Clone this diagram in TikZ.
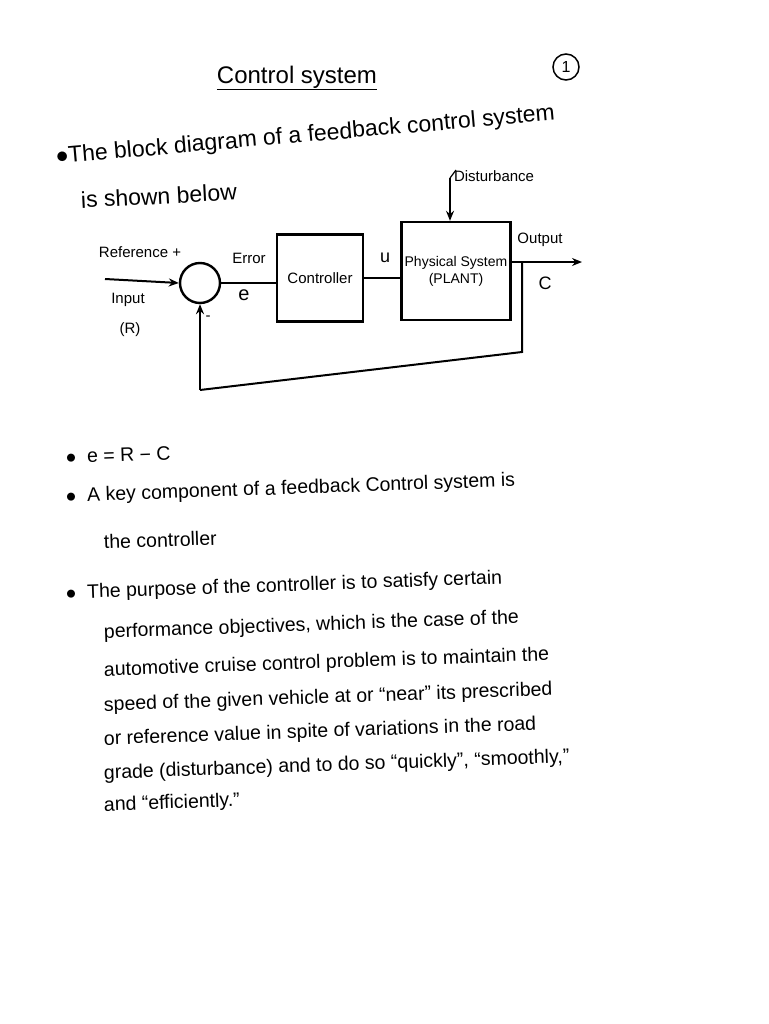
\documentclass[tikz,border=0pt]{standalone}
\usepackage{fontspec}
\setmainfont{Liberation Sans}
\usetikzlibrary{arrows.meta}
\begin{document}
\begin{tikzpicture}[x=1pt,y=-1pt,line width=2pt,
  txt/.style={anchor=west,font=\fontsize{19.5}{21}\selectfont,inner sep=0pt,rotate=2},
  lbl/.style={font=\fontsize{15}{17}\selectfont,inner sep=1pt},
  blk/.style={draw,line width=2.4pt,minimum width=86pt,minimum height=87pt,align=center,font=\fontsize{15}{18}\selectfont},
  arr/.style={-{Stealth[length=10pt,width=8pt]}}]
\useasboundingbox (0,0) rectangle (768,1024);
\node[font=\fontsize{24}{26}\selectfont] (title) at (297,78) {\underline{Control system}};
\node[draw,circle,line width=1.5pt,minimum size=26pt,font=\fontsize{16}{18}\selectfont,inner sep=0pt] (pg) at (566,67) {1};
\node[txt,font=\fontsize{23}{25}\selectfont,rotate=3] (l1) at (55,158) {$\bullet$The block diagram of a feedback control system};
\node[txt,font=\fontsize{23}{25}\selectfont,rotate=1] (l2) at (80,200) {is shown below};
% diagram
\node[draw,circle,line width=2.4pt,minimum size=40pt,inner sep=0pt] (sum) at (200,283) {};
\node[blk] (ctrl) at (320,278) {Controller};
\node[blk,minimum width=97pt,minimum height=98pt,font=\fontsize{14}{17}\selectfont] (plant) at (456,271) {Physical System\\(PLANT)};
\coordinate (in) at (105,279);
\coordinate (out) at (582,262);
\coordinate (fb) at (522,263);
\coordinate (fb1) at (522,352);
\coordinate (fb2) at (200,390);
\coordinate (dist) at (450,178);
\draw[arr] (in) -- (sum.west);
\draw (sum.east) -- (ctrl.west |- sum.east);
\draw (ctrl.east) coordinate (ce) (ce) -- (plant.west |- ce);
\draw[arr] (plant.east |- out) -- (out);
\draw (fb) -- (fb1) -- (fb2);
\draw[arr] (fb2) -- (sum.south);
\draw[arr,line width=1.5pt] (dist) -- (plant.north -| dist);
\draw[line width=1.2pt] (dist) -- ++(6,-8);
\node[lbl,anchor=west] (dl) at (452,176) {Disturbance};
\node[lbl] (ref) at (140,252) {Reference +};
\node[lbl] (inp) at (128,300) {Input};
\node[lbl] (r) at (130,330) {(R)};
\node[lbl] (err) at (249,258) {Error};
\node[lbl,font=\fontsize{20}{22}\selectfont] (e) at (244,295) {e};
\node[lbl,font=\fontsize{18}{20}\selectfont] (u) at (385,258) {u};
\node[lbl] (op) at (540,240) {Output};
\node[lbl,font=\fontsize{18}{20}\selectfont] (c) at (545,283) {C};
\node[lbl] (minus) at (208,318) {-};
% text
\node[txt,rotate=0] (b1) at (65,457) {$\bullet$\ \ e = R − C};
\node[txt] (b2) at (65,497) {$\bullet$\ \ A key component of a feedback Control system is};
\node[txt] (b2b) at (103,542) {the controller};
\node[txt] (b3) at (65,594) {$\bullet$\ \ The purpose of the controller is to satisfy certain};
\node[txt] (b3a) at (103,633) {performance objectives, which is the case of the};
\node[txt] (b3b) at (103,671) {automotive cruise control problem is to maintain the};
\node[txt] (b3c) at (103,706) {speed of the given vehicle at or “near” its prescribed};
\node[txt] (b3d) at (103,740) {or reference value in spite of variations in the road};
\node[txt] (b3e) at (103,774) {grade (disturbance) and to do so “quickly”, “smoothly,”};
\node[txt,rotate=0] (b3f) at (103,806) {and “efficiently.”};
\end{tikzpicture}
\end{document}
